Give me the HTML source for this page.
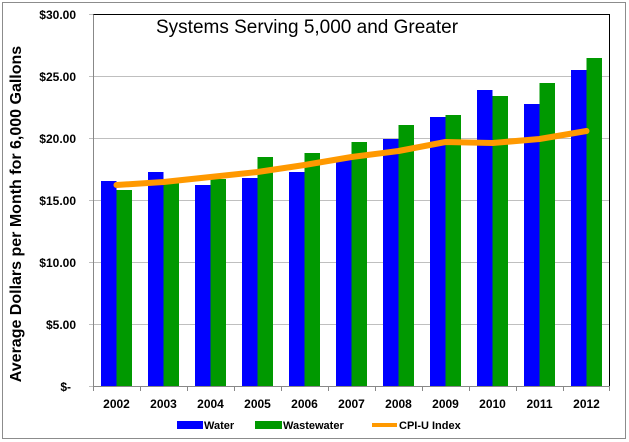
<!DOCTYPE html>
<html><head><meta charset="utf-8"><style>body{margin:0;background:#fff}svg{display:block}text{font-family:"Liberation Sans",Arial,sans-serif}</style></head><body>
<svg width="629" height="442" viewBox="0 0 629 442">
<rect x="2.5" y="2.5" width="623" height="436" fill="#fff" stroke="#8c8c8c" stroke-width="1"/>
<g stroke="#bfbfbf" stroke-width="1">
<line x1="89" x2="610" y1="76.5" y2="76.5"/><line x1="89" x2="610" y1="138.5" y2="138.5"/><line x1="89" x2="610" y1="200.5" y2="200.5"/><line x1="89" x2="610" y1="262.5" y2="262.5"/><line x1="89" x2="610" y1="324.5" y2="324.5"/>
<line x1="89" x2="93" y1="14.5" y2="14.5"/><line x1="89" x2="93" y1="386.5" y2="386.5"/>
</g>
<g fill="#0000ff">
<rect x="101" y="181" width="15.5" height="205"/>
<rect x="148" y="172" width="15.5" height="214"/>
<rect x="195" y="185" width="15.5" height="201"/>
<rect x="242" y="178" width="15.5" height="208"/>
<rect x="289" y="172" width="15.5" height="214"/>
<rect x="336" y="159" width="15.5" height="227"/>
<rect x="383" y="139" width="15.5" height="247"/>
<rect x="430" y="117" width="15.5" height="269"/>
<rect x="477" y="90" width="15.5" height="296"/>
<rect x="524" y="104" width="15.5" height="282"/>
<rect x="571" y="70" width="15.5" height="316"/>
</g>
<g fill="#009900">
<rect x="116.5" y="190" width="15.5" height="196"/>
<rect x="163.5" y="183" width="15.5" height="203"/>
<rect x="210.5" y="179" width="15.5" height="207"/>
<rect x="257.5" y="157" width="15.5" height="229"/>
<rect x="304.5" y="153" width="15.5" height="233"/>
<rect x="351.5" y="142" width="15.5" height="244"/>
<rect x="398.5" y="125" width="15.5" height="261"/>
<rect x="445.5" y="115" width="15.5" height="271"/>
<rect x="492.5" y="96" width="15.5" height="290"/>
<rect x="539.5" y="83" width="15.5" height="303"/>
<rect x="586.5" y="58" width="15.5" height="328"/>
</g>
<rect x="93.5" y="14.5" width="516" height="372" fill="none" stroke="#000" stroke-width="1"/>
<line x1="93.5" y1="14.5" x2="93.5" y2="386.5" stroke="#888"/>
<line x1="93" y1="386.5" x2="610" y2="386.5" stroke="#888"/>
<g stroke="#888">
<line x1="93.5" x2="93.5" y1="386" y2="391"/><line x1="140.5" x2="140.5" y1="386" y2="391"/><line x1="187.5" x2="187.5" y1="386" y2="391"/><line x1="234.5" x2="234.5" y1="386" y2="391"/><line x1="281.5" x2="281.5" y1="386" y2="391"/><line x1="328.5" x2="328.5" y1="386" y2="391"/><line x1="375.5" x2="375.5" y1="386" y2="391"/><line x1="422.5" x2="422.5" y1="386" y2="391"/><line x1="469.5" x2="469.5" y1="386" y2="391"/><line x1="516.5" x2="516.5" y1="386" y2="391"/><line x1="563.5" x2="563.5" y1="386" y2="391"/><line x1="609.5" x2="609.5" y1="386" y2="391"/>
</g>
<polyline fill="none" stroke="#ff9900" stroke-width="6" stroke-linecap="round" stroke-linejoin="round" points="116.5,185 163.5,182 210.5,177 257.5,172 304.5,165 351.5,157 398.5,151 445.5,142 492.5,143 539.5,139 586.5,131"/>
<text x="156" y="33" font-size="19" fill="#000">Systems Serving 5,000 and Greater</text>
<g font-size="12" font-weight="bold" text-anchor="end" fill="#000">
<text x="76" y="19">$30.00</text><text x="76" y="81">$25.00</text><text x="76" y="143">$20.00</text><text x="76" y="205">$15.00</text><text x="76" y="267">$10.00</text><text x="76" y="329">$5.00</text><text x="71" y="391">$-</text>
</g>
<g font-size="12" font-weight="bold" text-anchor="middle">
<text x="116.5" y="408">2002</text><text x="163.5" y="408">2003</text><text x="210.5" y="408">2004</text><text x="257.5" y="408">2005</text><text x="304.5" y="408">2006</text><text x="351.5" y="408">2007</text><text x="398.5" y="408">2008</text><text x="445.5" y="408">2009</text><text x="492.5" y="408">2010</text><text x="539.5" y="408">2011</text><text x="586.5" y="408">2012</text>
</g>
<text transform="translate(21,214) rotate(-90)" font-size="16" font-weight="bold" text-anchor="middle">Average Dollars per Month for 6,000 Gallons</text>
<rect x="177" y="421" width="26" height="8" fill="#0000ff"/><text x="204" y="429" font-size="11" font-weight="bold">Water</text>
<rect x="255" y="421" width="27" height="8" fill="#009900"/><text x="283" y="429" font-size="11" font-weight="bold">Wastewater</text>
<line x1="372" y1="425" x2="397" y2="425" stroke="#ff9900" stroke-width="4"/><text x="399" y="429" font-size="11" font-weight="bold">CPI-U Index</text>
</svg>
</body></html>
